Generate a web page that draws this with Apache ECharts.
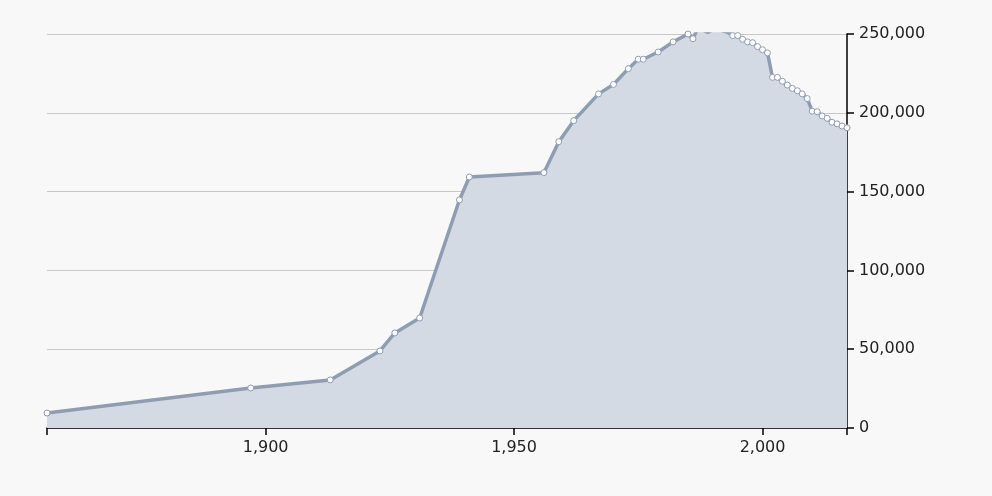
<!DOCTYPE html>
<html><head><meta charset="utf-8">
<script src="https://cdn.jsdelivr.net/npm/echarts@6/dist/echarts.min.js"></script>
<style>html,body{margin:0;background:#f8f8f8}#main{width:992px;height:496px}</style>
</head><body><div id="main"></div>
<script>
var years = [1856,1897,1913,1923,1926,1931,1939,1941,1956,1959,1962,1967,1970,1973,1975,1976,1979,1982,1985,1986,1987,1989,1990,1991,1992,1993,1994,1995,1996,1997,1998,1999,2000,2001,2002,2003,2004,2005,2006,2007,2008,2009,2010,2011,2012,2013,2014,2015,2016,2017];
var population = [9500,25400,30500,48900,60300,69800,144700,159300,162000,181700,195000,212000,218000,228000,234000,234000,238600,245000,250000,247000,254000,251000,253000,253000,252000,251000,249000,249000,246600,245000,244500,242000,240000,238000,222500,222500,220000,217600,215500,214000,212000,209000,201000,200700,198000,196500,194000,193000,191600,190500];

var myChart = echarts.init(document.getElementById('main'));
var option = {
    backgroundColor: '#f8f8f8',
    animation: false,
    grid: { left: 47, right: 145, top: 34, bottom: 68 },
    xAxis: {
        type: 'value',
        min: 1856,
        max: 2017,
        splitLine: { show: false },
        axisLine: { lineStyle: { color: '#000', width: 1.5 } },
        axisTick: { customValues: [1856, 1900, 1950, 2000, 2017], length: 7, lineStyle: { color: '#000', width: 1.5 } },
        axisLabel: { customValues: [1900, 1950, 2000], color: '#222', fontSize: 16, fontFamily: 'DejaVu Sans', margin: 12 }
    },
    yAxis: {
        type: 'value',
        position: 'right',
        min: 0,
        max: 250000,
        interval: 50000,
        splitLine: { lineStyle: { color: '#c8c8c8' } },
        axisLine: { show: true, lineStyle: { color: '#000', width: 1.5 } },
        axisTick: { show: true, length: 7, lineStyle: { color: '#000', width: 1.5 } },
        axisLabel: { color: '#222', fontSize: 16, fontFamily: 'DejaVu Sans', margin: 12 }
    },
    series: [{
        type: 'line',
        data: years.map(function (y, i) { return [y, population[i]]; }),
        symbol: 'circle',
        symbolSize: 6,
        itemStyle: { color: '#fff', borderColor: '#8f9db3', borderWidth: 1 },
        lineStyle: { color: '#8f9db3', width: 3.5 },
        areaStyle: { color: '#d3dae3', opacity: 1 }
    }]
};
myChart.setOption(option);
</script></body></html>
